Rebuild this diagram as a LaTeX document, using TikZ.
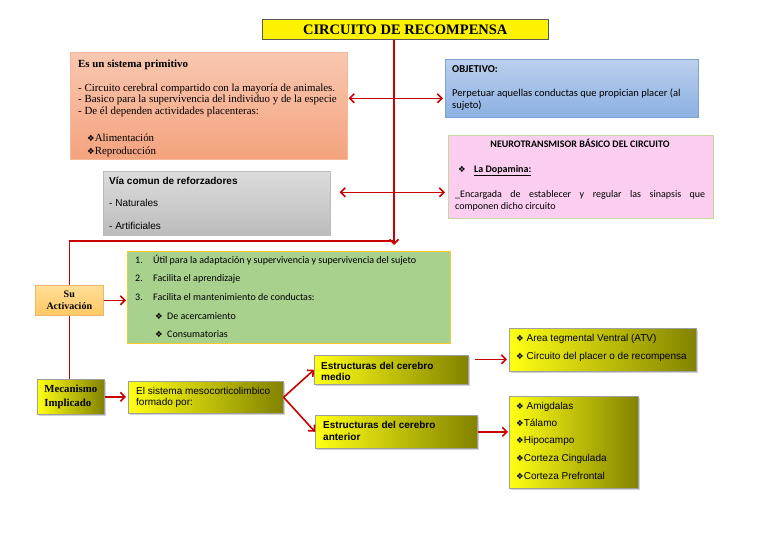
\documentclass[tikz,border=0pt]{standalone}
\usepackage{fontspec}
\setmainfont{Liberation Serif}
\newfontfamily\calib{Carlito}
\newfontfamily\arial{Liberation Sans}
\newfontfamily\djsym{DejaVu Sans}
\usetikzlibrary{arrows.meta,shadows}
\definecolor{ared}{RGB}{200,0,0}
\definecolor{orTop}{RGB}{248,199,176}
\definecolor{orBot}{RGB}{244,163,126}
\definecolor{orLine}{RGB}{245,183,154}
\definecolor{blTop}{RGB}{186,207,236}
\definecolor{blBot}{RGB}{140,177,226}
\definecolor{blLine}{RGB}{125,162,212}
\definecolor{grTop}{RGB}{220,220,220}
\definecolor{grBot}{RGB}{188,188,188}
\definecolor{pkFill}{RGB}{251,206,240}
\definecolor{pkLine}{RGB}{196,215,160}
\definecolor{gnFill}{RGB}{169,209,142}
\definecolor{gnLine}{RGB}{255,200,40}
\definecolor{saTop}{RGB}{255,222,150}
\definecolor{saBot}{RGB}{255,200,100}
\definecolor{saLine}{RGB}{240,180,110}
\definecolor{oyel}{RGB}{255,255,20}
\definecolor{oliv}{RGB}{130,130,0}
\newcommand\dia{{\djsym\fontsize{8.5}{9}\selectfont ❖}}
\newcommand\tlin[5][]{\node[txt,#1] (#2) at (#3,#4) {#5};}
\tikzset{
  box/.style={rectangle, inner sep=0pt, anchor=north west, line width=0.6pt},
  txt/.style={anchor=base west, inner sep=0pt},
  conn/.style={draw=ared, line width=1.6pt},
  barb/.tip={Straight Barb[length=4.5pt,width=9pt,line width=1.6pt]},
  arr/.style={conn, -barb},
  dbl/.style={conn, barb-barb},
  olivebox/.style={box, draw=gray!75, left color=oyel, right color=oliv,
    drop shadow={shadow xshift=1.2pt, shadow yshift=-1.2pt, fill=gray!50, opacity=0.7}},
}
\begin{document}
\begin{tikzpicture}[x=1pt,y=-1pt]
\useasboundingbox (0,0) rectangle (768,543);
\fill[white] (0,0) rectangle (768,543);

% boxes
\node[box, draw=gray!70!black, fill=yellow, minimum width=286pt, minimum height=20pt,
  font=\bfseries\fontsize{14.5}{16}\selectfont] (title) at (262,19) {CIRCUITO DE RECOMPENSA};
\node[box, draw=orLine, top color=orTop, bottom color=orBot, minimum width=277pt, minimum height=107pt] (orange) at (70,52) {};
\node[box, draw=blLine, top color=blTop, bottom color=blBot, minimum width=253pt, minimum height=58pt] (obj) at (445,59) {};
\node[box, draw=pkLine, fill=pkFill, minimum width=265pt, minimum height=83pt] (pink) at (448,135) {};
\node[box, draw=grBot, top color=grTop, bottom color=grBot, minimum width=227pt, minimum height=64pt] (gray) at (103,171) {};
\node[box, draw=gnLine, fill=gnFill, minimum width=323pt, minimum height=92pt] (green) at (127,251) {};
\node[box, draw=saLine, top color=saTop, bottom color=saBot, minimum width=68pt, minimum height=30pt,
  align=center, font=\bfseries\fontsize{10}{12.5}\selectfont] (suact) at (35,285) {Su\\Activación};
\node[olivebox, minimum width=67pt, minimum height=35pt,
  align=left, font=\bfseries\fontsize{10.8}{13.5}\selectfont] (mec) at (37,379) {Mecanismo\\Implicado};
\node[olivebox, minimum width=155pt, minimum height=32pt] (sist) at (128,381) {};
\node[olivebox, minimum width=154pt, minimum height=29pt] (medio) at (314,355) {};
\node[olivebox, minimum width=162pt, minimum height=33pt] (anter) at (315,415) {};
\node[olivebox, minimum width=187pt, minimum height=43pt] (atv) at (509,328) {};
\node[olivebox, minimum width=129pt, minimum height=92pt] (lst) at (509,396) {};

% orange text
\begin{scope}[every node/.append style={font=\fontsize{10.9}{12}\selectfont}]
\tlin{o1}{78}{67}{\textbf{Es un sistema primitivo}}
\tlin{o2}{78}{91}{- Circuito cerebral compartido con la mayoría de animales.}
\tlin{o3}{78}{102}{- Basico para la supervivencia del individuo y de la especie}
\tlin{o4}{78}{114}{- De él dependen actividades placenteras:}
\tlin{o5}{87}{141}{\dia Alimentación}
\tlin{o6}{87}{154}{\dia Reproducción}
\end{scope}

% objetivo text
\begin{scope}[every node/.append style={font=\calib\fontsize{10.5}{12}\selectfont}]
\tlin{b1}{452}{72}{\textbf{OBJETIVO:}}
\tlin{b2}{452}{96}{Perpetuar aquellas conductas que propician placer (al}
\tlin{b3}{452}{108}{sujeto)}
\end{scope}

% pink text
\begin{scope}[every node/.append style={font=\calib\fontsize{10}{12}\selectfont}]
\node[anchor=base, inner sep=0pt] (p1) at (580,147) {\textbf{NEUROTRANSMISOR BÁSICO DEL CIRCUITO}};
\tlin{p2}{458}{172}{\dia}
\tlin{p3}{474}{172}{\textbf{\underline{La Dopamina:}}}
\tlin{p4}{455}{197}{\makebox[250pt][s]{\_Encargada de establecer y regular las sinapsis que}}
\tlin{p5}{455}{209}{componen dicho circuito}
\end{scope}

% gray text
\begin{scope}[every node/.append style={font=\arial\fontsize{10}{12}\selectfont}]
\tlin{g1}{109}{184}{\textbf{Vía comun de reforzadores}}
\tlin{g2}{109}{206}{- Naturales}
\tlin{g3}{109}{229}{- Artificiales}
\end{scope}

% green text
\begin{scope}[every node/.append style={font=\calib\fontsize{10}{12}\selectfont}]
\tlin{n1}{135}{263}{1.}
\tlin{t1}{153}{263}{Útil para la adaptación y supervivencia y supervivencia del sujeto}
\tlin{n2}{135}{281}{2.}
\tlin{t2}{153}{281}{Facilita el aprendizaje}
\tlin{n3}{135}{300}{3.}
\tlin{t3}{153}{300}{Facilita el mantenimiento de conductas:}
\tlin{d4}{155}{319}{\dia}
\tlin{t4}{167}{319}{De acercamiento}
\tlin{d5}{155}{337}{\dia}
\tlin{t5}{167}{337}{Consumatorias}
\end{scope}

% olive boxes text
\begin{scope}[every node/.append style={font=\arial\fontsize{10}{12}\selectfont}]
\tlin{s1}{136}{394}{El sistema mesocorticolimbico}
\tlin{s2}{136}{405}{formado por:}
\tlin{m1}{321}{369}{\textbf{Estructuras del cerebro}}
\tlin{m2}{321}{380}{\textbf{medio}}
\tlin{a1}{323}{428}{\textbf{Estructuras del cerebro}}
\tlin{a2}{323}{440}{\textbf{anterior}}
\tlin{v1}{516}{341}{\dia\ Area tegmental Ventral (ATV)}
\tlin{v2}{516}{359}{\dia\ Circuito del placer o de recompensa}
\tlin{l1}{516}{409}{\dia\ Amigdalas}
\tlin{l2}{516}{426}{\dia Tálamo}
\tlin{l3}{516}{443}{\dia Hipocampo}
\tlin{l4}{516}{461}{\dia Corteza Cingulada}
\tlin{l5}{516}{479}{\dia Corteza Prefrontal}
\end{scope}

% connectors
\coordinate (tk) at (394,245);
\draw[arr] (title.south -| tk) -- (tk);
\draw[conn] ([yshift=4pt]tk) -| (suact.north);
\draw[conn] (suact.south) -- (mec.north -| suact.south);
\draw[dbl, shorten <=1pt, shorten >=2pt] ([yshift=7.5pt]orange.east) -- ([yshift=7.5pt]orange.east -| obj.west);
\draw[dbl, shorten <=9pt, shorten >=3pt] ([yshift=11pt]gray.east) -- ([yshift=11pt]gray.east -| pink.west);
\draw[arr, shorten >=1pt] (suact.east) -- (suact.east -| green.west);
\draw[arr, shorten >=2pt] (mec.east) -- (mec.east -| sist.west);
\draw[arr] (sist.east) -- (medio.west);
\draw[arr] (sist.east) -- (anter.west);
\draw[arr, shorten <=6pt, shorten >=2pt] ([yshift=10.5pt]medio.east) -- ([yshift=10.5pt]medio.east -| atv.west);
\draw[arr, shorten >=1pt] (anter.east) -- (anter.east -| lst.west);
\end{tikzpicture}
\end{document}
